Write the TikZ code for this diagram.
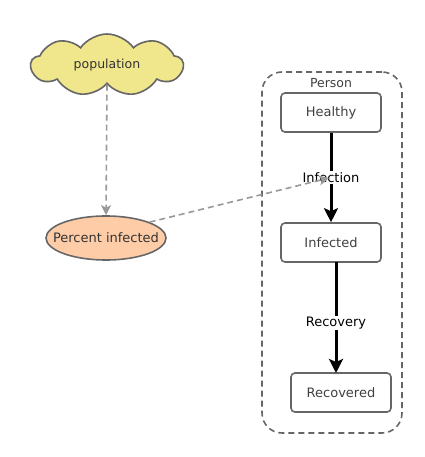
\documentclass[tikz,border=0pt]{standalone}
\usepackage{fontspec}
\setmainfont{DejaVu Sans}
\usetikzlibrary{shapes.symbols,shapes.geometric,arrows.meta}
\definecolor{strokegray}{HTML}{666666}
\definecolor{cloudfill}{HTML}{F0E68C}
\definecolor{peach}{HTML}{FFCCA8}
\definecolor{linkgray}{HTML}{999999}
\tikzset{
  statebox/.style={draw=strokegray, line width=1.6pt, rounded corners=4pt, fill=white,
    minimum width=100pt, minimum height=39pt, inner sep=0pt, font=\fontsize{13}{15}\selectfont, text=black!75},
  flow/.style={line width=3pt, -{Stealth[length=14pt,width=14pt,inset=3pt]}},
  flowlabel/.style={fill=white, inner sep=1pt, font=\fontsize{13}{15}\selectfont},
  link/.style={draw=linkgray, line width=1.6pt, dash pattern=on 6pt off 4pt, -{Stealth[length=10pt,width=10pt,inset=2.5pt]}},
}
\begin{document}
\begin{tikzpicture}[x=1pt,y=-1pt]
\useasboundingbox (0,0) rectangle (424,457);
% container
\node[draw=strokegray, line width=1.6pt, dash pattern=on 6pt off 4pt, rounded corners=20pt,
  minimum width=140pt, minimum height=361pt, inner sep=0pt] (person) at (332,252.5) {};
\node[font=\fontsize{12.5}{14}\selectfont, text=black!75] (personlbl) at (331,83) {Person};
% cloud
\node[cloud, cloud puffs=9, cloud puff arc=110, aspect=2.4, draw=strokegray, line width=1.6pt,
  fill=cloudfill, minimum width=152pt, minimum height=62pt, inner sep=0pt,
  font=\fontsize{12.5}{14}\selectfont, text=black!80] (pop) at (107,65) {population};
% ellipse
\node[ellipse, draw=strokegray, line width=1.6pt, fill=peach, minimum width=120pt, minimum height=44pt,
  inner sep=0pt] (pct) at (106,238) {};
\node[font=\fontsize{13}{15}\selectfont, text=black!80, inner sep=0pt] (pcttext) at (pct.center) {Percent infected};
% states
\node[statebox] (healthy) at (331,112.5) {Healthy};
\node[statebox] (infected) at (331,242.5) {Infected};
\node[statebox] (recovered) at (341,392.5) {Recovered};
% flows
\draw[flow] (healthy.south) -- (healthy.south |- infected.north)
  node[flowlabel, pos=0.5] (inflbl) {Infection};
\coordinate (rtop) at (336,262);
\coordinate (rbot) at (336,373);
\draw[flow] (rtop) -- (rbot) node[flowlabel, pos=0.55] (reclbl) {Recovery};
% links
\draw[link] (pop.south) -- (pct.north);
\coordinate (linkend) at (329,178);
\draw[link] (pct.20) -- (linkend);
\end{tikzpicture}
\end{document}
